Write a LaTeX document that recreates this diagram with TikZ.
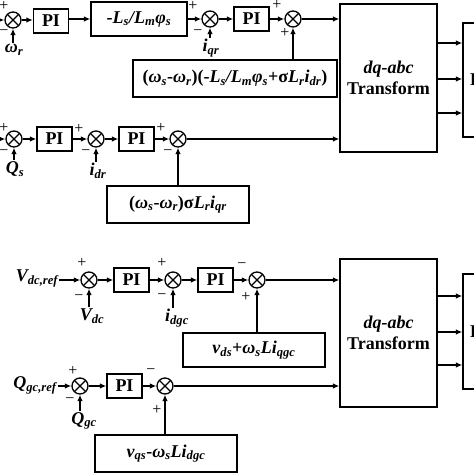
\documentclass[tikz,border=0pt]{standalone}
\usepackage{fontspec}
\setmainfont{Liberation Serif}
\usetikzlibrary{arrows.meta}
\newcommand{\lo}[1]{\textsubscript{#1}}
\tikzset{
  blk/.style={draw,line width=1.3pt,inner sep=0pt,font=\fontsize{18}{21}\selectfont\bfseries},
  pibox/.style={blk,minimum width=35,minimum height=24},
  sum/.style={circle,draw,line width=1.3pt,minimum size=16,inner sep=0pt,
    path picture={\draw[line width=1.2pt] (path picture bounding box.south west) -- (path picture bounding box.north east)
      (path picture bounding box.north west) -- (path picture bounding box.south east);}},
  sig/.style={line width=1.3pt,-{Latex[length=6.5pt,width=5.5pt]}},
  lbl/.style={inner sep=1pt,font=\fontsize{18}{21}\selectfont\bfseries\itshape},
  sgn/.style={inner sep=0pt,font=\fontsize{16}{18}\selectfont}
}
\begin{document}
\begin{tikzpicture}[x=1pt,y=-1pt]
  \useasboundingbox (0,0) rectangle (474,474);
  \clip (0,0) rectangle (474,474);
  % rotor side, q axis
  \coordinate (in1) at (-12,20);
  \node[sum] (s1) at (13,20) {};
  \node[pibox] (pi1) at (51,21) {PI};
  \node[blk,minimum width=96,minimum height=34] (g1) at (139,19) {-\textit{L\lo{s}/L\lo{m}φ\lo{s}}};
  \node[sum] (s2) at (210,19) {};
  \node[pibox] (pi2) at (251.5,19) {PI};
  \node[sum] (s3) at (293,19) {};
  \node[blk,minimum width=204,minimum height=37] (f1) at (235,78.5)
    {(\textit{ω\lo{s}}-\textit{ω\lo{r}})(-\textit{L\lo{s}/L\lo{m}φ\lo{s}}+σ\textit{L\lo{r}i\lo{dr}})};
  \node[lbl] (wr) at (14,50) {ω\lo{r}};
  \node[lbl] (iqr) at (211,48) {i\lo{qr}};
  % rotor side, d axis
  \coordinate (in2) at (-12,139);
  \node[sum] (s4) at (14,139) {};
  \node[pibox] (pi3) at (54.5,139) {PI};
  \node[sum] (s5) at (96,139) {};
  \node[pibox] (pi4) at (136.5,139) {PI};
  \node[sum] (s6) at (178,139) {};
  \node[blk,minimum width=142,minimum height=37] (f2) at (178,204.5)
    {(\textit{ω\lo{s}}-\textit{ω\lo{r}})σ\textit{L\lo{r}i\lo{qr}}};
  \node[lbl] (qs) at (15,169) {Q\lo{s}};
  \node[lbl] (idr) at (98,171) {i\lo{dr}};
  % transforms and output stages
  \node[blk,minimum width=97,minimum height=148,align=center] (dq1) at (388.5,78) {\textit{dq-abc}\\Transform};
  \node[blk,minimum width=97,minimum height=148,align=center] (dq2) at (388.5,333) {\textit{dq-abc}\\Transform};
  \node[blk,minimum width=60,minimum height=114] (pwm1) at (493,80) {PWM};
  \node[blk,minimum width=60,minimum height=115] (pwm2) at (493,331.5) {PWM};
  % grid side, d axis
  \node[lbl] (vref) at (37,278) {V\lo{dc,ref}};
  \node[sum] (s7) at (89,280) {};
  \node[pibox] (pi5) at (131.5,280) {PI};
  \node[sum] (s8) at (173,280) {};
  \node[pibox] (pi6) at (215.5,280) {PI};
  \node[sum] (s9) at (257,280) {};
  \node[blk,minimum width=142,minimum height=34] (f3) at (254,350)
    {\textit{v\lo{ds}}+\textit{ω\lo{s}Li\lo{qgc}}};
  \node[lbl] (vdc) at (92,316) {V\lo{dc}};
  \node[lbl] (idgc) at (177,318) {i\lo{dgc}};
  % grid side, q axis
  \node[lbl] (qref) at (35,385) {Q\lo{gc,ref}};
  \node[sum] (s11) at (80,386) {};
  \node[pibox] (pi7) at (124.5,386) {PI};
  \node[sum] (s10) at (165,386) {};
  \node[blk,minimum width=142,minimum height=37] (f4) at (166,453.5)
    {\textit{v\lo{qs}}-\textit{ω\lo{s}Li\lo{dgc}}};
  \node[lbl] (qgc) at (84,421) {Q\lo{gc}};
  % signs
  \node[sgn] at (4,6) {+};     \node[sgn] at (4,33) {−};
  \node[sgn] at (193,6) {+};   \node[sgn] at (198,33) {−};
  \node[sgn] at (277,5) {+};   \node[sgn] at (285,33) {+};
  \node[sgn] at (4,128) {+};   \node[sgn] at (4,153) {−};
  \node[sgn] at (79,129) {+};  \node[sgn] at (86,153) {−};
  \node[sgn] at (161,128) {+}; \node[sgn] at (168,153) {−};
  \node[sgn] at (82,263) {+};  \node[sgn] at (79,298) {−};
  \node[sgn] at (162,263) {+}; \node[sgn] at (162,297) {−};
  \node[sgn] at (242,266) {−}; \node[sgn] at (246,297) {+};
  \node[sgn] at (73,371) {+};  \node[sgn] at (70,401) {−};
  \node[sgn] at (151,372) {−}; \node[sgn] at (157,410) {+};
  % signal paths
  \draw[sig] (in1) -- (s1);
  \draw[sig] (s1) -- (s1 -| pi1.west);
  \draw[sig] (pi1.east |- g1) -- (g1);
  \draw[sig] (g1) -- (s2);
  \draw[sig] (s2) -- (pi2);
  \draw[sig] (pi2) -- (s3);
  \draw[sig] (s3) -- (s3 -| dq1.west);
  \draw[sig] (f1.north -| s3) -- (s3);
  \draw[sig] (s1 |- wr.north) -- (s1);
  \draw[sig] (s2 |- iqr.north) -- (s2);
  \draw[sig] (in2) -- (s4);
  \draw[sig] (s4) -- (pi3);
  \draw[sig] (pi3) -- (s5);
  \draw[sig] (s5) -- (pi4);
  \draw[sig] (pi4) -- (s6);
  \draw[sig] (s6) -- (s6 -| dq1.west);
  \draw[sig] (f2) -- (s6);
  \draw[sig] (s4 |- qs.north) -- (s4);
  \draw[sig] (s5 |- idr.north) -- (s5);
  \draw[sig] (vref.east |- s7) -- (s7);
  \draw[sig] (s7) -- (pi5);
  \draw[sig] (pi5) -- (s8);
  \draw[sig] (s8) -- (pi6);
  \draw[sig] (pi6) -- (s9);
  \draw[sig] (s9) -- (s9 -| dq2.west);
  \draw[sig] (f3.north -| s9) -- (s9);
  \draw[sig] (s7 |- vdc.north) -- (s7);
  \draw[sig] (s8 |- idgc.north) -- (s8);
  \draw[sig] (qref.east |- s11) -- (s11);
  \draw[sig] (s11) -- (pi7);
  \draw[sig] (pi7) -- (s10);
  \draw[sig] (s10) -- (s10 -| dq2.west);
  \draw[sig] (f4.north -| s10) -- (s10);
  \draw[sig] (s11 |- qgc.north) -- (s11);
  \foreach \y in {43,79,113} \draw[sig] (dq1.east |- 0,\y) -- (pwm1.west |- 0,\y);
  \foreach \y in {296,332,365} \draw[sig] (dq2.east |- 0,\y) -- (pwm2.west |- 0,\y);
\end{tikzpicture}
\end{document}
